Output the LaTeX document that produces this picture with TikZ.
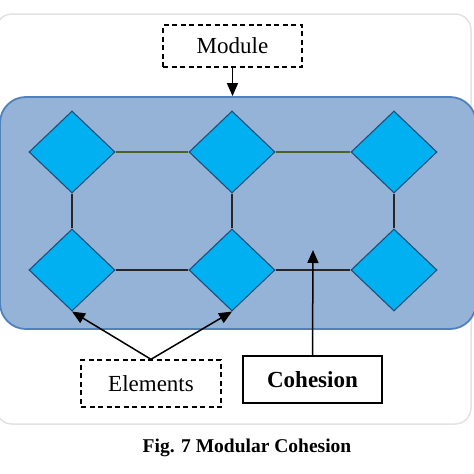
\documentclass[tikz,border=0pt]{standalone}
\usepackage{fontspec}
\setmainfont{Liberation Serif}
\usetikzlibrary{shapes.geometric,arrows.meta}
\definecolor{modfill}{HTML}{95B3D7}
\definecolor{modline}{HTML}{4F81BD}
\definecolor{elfill}{HTML}{00B0F0}
\definecolor{elline}{HTML}{1F4E79}
\definecolor{greenline}{HTML}{4F6228}
\definecolor{outerline}{HTML}{E2E2E2}
\tikzset{
  elem/.style={diamond, draw=elline, fill=elfill, line width=1.1pt, minimum width=86pt, minimum height=82pt, inner sep=0pt},
  dashbox/.style={draw, dash pattern=on 5pt off 3.5pt, line width=1.4pt, font=\fontsize{23}{27}\selectfont, inner sep=0pt},
  solidbox/.style={draw, line width=1.4pt, font=\fontsize{23}{27}\selectfont\bfseries, inner sep=0pt},
  link/.style={line width=1.5pt, draw=black!85},
  pointer/.style={line width=1.5pt, -{Triangle[width=11pt,length=13pt]}}
}
\begin{document}
\begin{tikzpicture}[x=1pt,y=-1pt]
\useasboundingbox (0,0) rectangle (474,474);
\clip (0,0) rectangle (474,474);
\draw[outerline, line width=1.5pt, rounded corners=16pt] (-4,14) rectangle (471,424);
\node[draw=modline, fill=modfill, line width=1.8pt, rounded corners=26pt, minimum width=476pt, minimum height=232pt, inner sep=0pt] (mod) at (238,213) {};
\node[elem] (d11) at (72,152) {};
\node[elem] (d12) at (232,152) {};
\node[elem] (d13) at (394,152) {};
\node[elem] (d21) at (72,270) {};
\node[elem] (d22) at (232,270) {};
\node[elem] (d23) at (394,270) {};
\draw[link, draw=greenline] (d11.east) -- (d12.west);
\draw[link, draw=greenline] (d12.east) -- (d13.west);
\draw[link] (d21.east) -- (d22.west);
\draw[link] (d22.east) -- (d23.west);
\draw[link] (d11.south) -- (d21.north);
\draw[link] (d12.south) -- (d22.north);
\draw[link] (d13.south) -- (d23.north);
\node[dashbox, minimum width=139pt, minimum height=42pt] (module) at (232.5,46) {Module};
\node[dashbox, minimum width=140pt, minimum height=47pt] (elements) at (151,383.5) {Elements};
\node[solidbox, minimum width=139pt, minimum height=47pt] (cohesion) at (312.5,379.5) {Cohesion};
\coordinate (cohtip) at (313,250);
\draw[pointer] (module.south) -- (module.south |- mod.north);
\draw[pointer] (cohesion.north) -- (cohtip);
\draw[pointer] (elements.north) -- (d21.south);
\draw[pointer] (elements.north) -- (d22.south);
\node[font=\fontsize{19.5}{23}\selectfont\bfseries, inner sep=0pt] (caption) at (247,448) {Fig. 7 Modular Cohesion};
\end{tikzpicture}
\end{document}
